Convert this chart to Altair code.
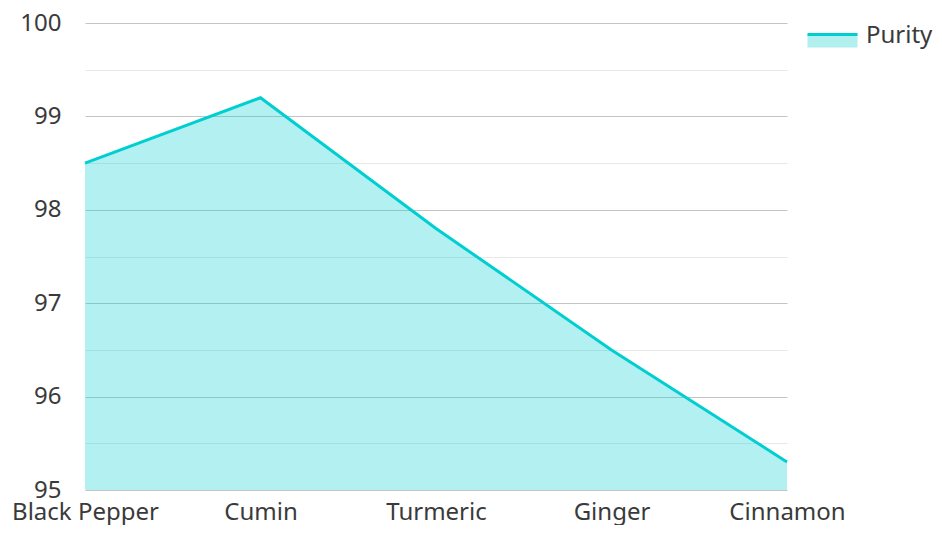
import altair as alt
import pandas as pd

spices = ["Black Pepper", "Cumin", "Turmeric", "Ginger", "Cinnamon"]
purity = [98.5, 99.2, 97.8, 96.5, 95.3]
series = ["Purity"] * len(spices)
y_ticks = [95, 95.5, 96, 96.5, 97, 97.5, 98, 98.5, 99, 99.5, 100]

df = pd.DataFrame({"spice": spices, "purity": purity, "series": series})

TEAL = "#00CED1"
FONT = "Noto Sans"
FS = 24
TXT = "#3a3a3a"

x = alt.X("spice:N", sort=spices, title=None,
          scale=alt.Scale(type="point", padding=0),
          axis=alt.Axis(labelAngle=0, labelFontSize=FS, labelColor=TXT,
                        labelFont=FONT, ticks=False, domain=False, grid=False,
                        labelPadding=10))
y = alt.Y("purity:Q", title=None,
          scale=alt.Scale(domain=[95, 100], nice=False, zero=False),
          axis=alt.Axis(values=y_ticks, labelFontSize=FS, labelColor=TXT,
                        labelFont=FONT, ticks=False, domain=False,
                        labelExpr="datum.value % 1 === 0 ? format(datum.value, 'd') : ''",
                        labelPadding=24,
                        gridColor={"condition": {"test": "datum.value % 1 === 0", "value": "#c4c4c4"},
                                   "value": "#e8e8e8"},
                        gridWidth=1))

area = alt.Chart(df).mark_area(color=TEAL, opacity=0.3, clip=True).encode(x=x, y=y)
line = alt.Chart(df).mark_line(strokeWidth=3).encode(
    x=x, y=y,
    color=alt.Color("series:N", title=None,
                    scale=alt.Scale(range=[TEAL]),
                    legend=alt.Legend(orient="none", legendX=721, legendY=-14,
                                      padding=0,
                                      symbolType="M-1,-0.04H1V0.48H-1Z",
                                      symbolSize=2500,
                                      symbolStrokeWidth=3,
                                      symbolFillColor="#b2efef",
                                      symbolDash=[50, 1000],
                                      labelFontSize=FS, labelFont=FONT,
                                      labelColor=TXT, labelOffset=7)))

chart = alt.layer(area, line).properties(
    width=702, height=467,
    padding={"left": 77, "top": 15, "right": 146, "bottom": 35},
    autosize=alt.AutoSizeParams(type="none"),
).configure(background="white").configure_view(strokeWidth=0)

chart.save("out.html", embed_options={"renderer": "svg", "actions": False})
